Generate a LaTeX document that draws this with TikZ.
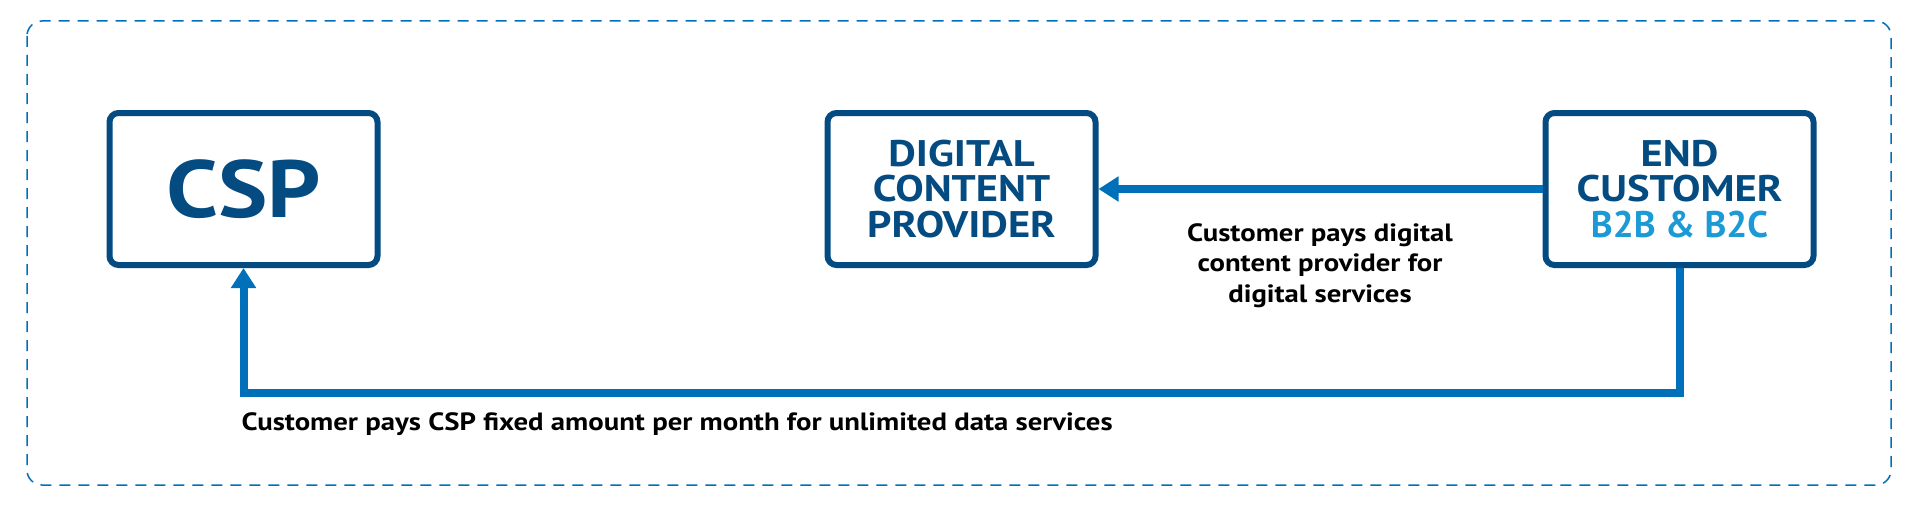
\documentclass[tikz,border=0pt]{standalone}
\usepackage{fontspec}
\setmainfont{PT Sans}[FakeStretch=1.15]
\usetikzlibrary{arrows.meta}
\definecolor{navy}{HTML}{034B80}
\definecolor{arrowblue}{HTML}{0070BA}
\definecolor{skyblue}{HTML}{1B9AD6}

\begin{document}
\begin{tikzpicture}[x=1pt,y=-1pt,node distance=718pt,
  party/.style={draw=navy,line width=6pt,rounded corners=9pt,minimum width=268pt,minimum height=152pt,align=center,text=navy,font=\bfseries\fontsize{37}{35.5}\selectfont},
  pays/.style={draw=arrowblue,line width=8pt,-{Triangle[length=20pt,width=24pt]}},
  note/.style={font=\bfseries\fontsize{25}{30.5}\selectfont,align=center}]
\useasboundingbox (0,0) rectangle (1920,511);
\draw[arrowblue,line width=1.5pt,dash pattern=on 11pt off 8pt,rounded corners=15pt] (27,21) rectangle (1891,485);

\node[party] (CSP) at (243.5,189) {\fontsize{81}{81}\selectfont CSP};
\node[party] (DCP) [right of=CSP] {DIGITAL\\CONTENT\\PROVIDER};
\node[party] (END) [right of=DCP] {END\\CUSTOMER\\{\addfontfeatures{FakeStretch=1.0}\color{skyblue}B2B \& B2C}};
\coordinate (turn) at (243.5,393);

\draw[pays] (END.west) -- (DCP.east);
\draw[pays] (END.south) |- (turn) -- (CSP.south);

\node[note,anchor=base] (dcplbl) at (1320,302) {Customer pays digital\\content provider for\\digital services};
\node[note,anchor=base west] (csplbl) at (238,430) {Customer pays CSP fixed amount per month for unlimited data services};
\end{tikzpicture}
\end{document}
